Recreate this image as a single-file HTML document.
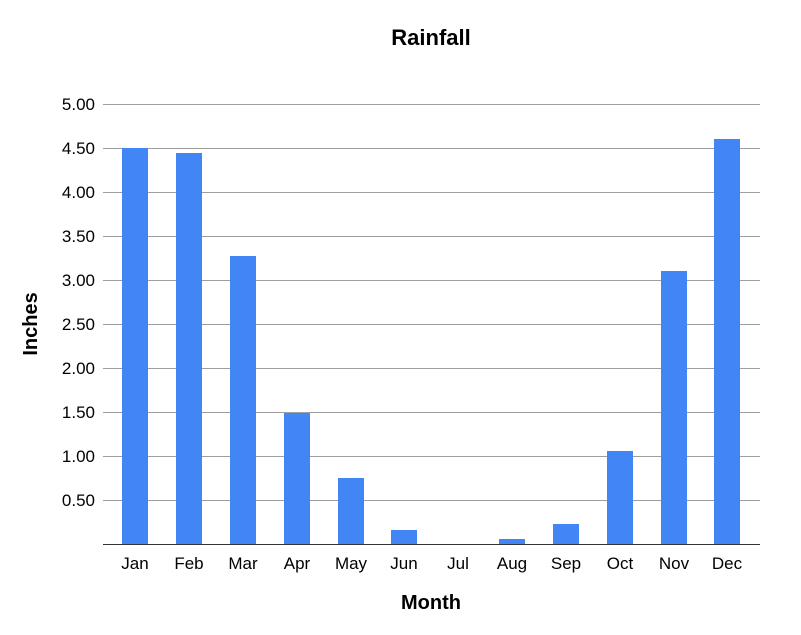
<!DOCTYPE html>
<html><head><style>body{margin:0;background:#fff}</style></head><body>
<svg width="801" height="630" xmlns="http://www.w3.org/2000/svg" font-family="Liberation Sans, sans-serif">
<rect width="801" height="630" fill="#fff"/>
<text x="431" y="45" text-anchor="middle" font-size="22" font-weight="bold" fill="#000">Rainfall</text>
<g stroke="#9e9e9e" stroke-width="1">
<line x1="103" x2="760" y1="104.5" y2="104.5"/><line x1="103" x2="760" y1="148.5" y2="148.5"/>
<line x1="103" x2="760" y1="192.5" y2="192.5"/><line x1="103" x2="760" y1="236.5" y2="236.5"/>
<line x1="103" x2="760" y1="280.5" y2="280.5"/><line x1="103" x2="760" y1="324.5" y2="324.5"/>
<line x1="103" x2="760" y1="368.5" y2="368.5"/><line x1="103" x2="760" y1="412.5" y2="412.5"/>
<line x1="103" x2="760" y1="456.5" y2="456.5"/><line x1="103" x2="760" y1="500.5" y2="500.5"/>
</g>
<line x1="103" x2="760" y1="544.5" y2="544.5" stroke="#333"/>
<g font-size="17" fill="#000" text-anchor="end">
<text x="95" y="110">5.00</text><text x="95" y="154">4.50</text><text x="95" y="198">4.00</text>
<text x="95" y="242">3.50</text><text x="95" y="286">3.00</text><text x="95" y="330">2.50</text>
<text x="95" y="374">2.00</text><text x="95" y="418">1.50</text><text x="95" y="462">1.00</text>
<text x="95" y="506">0.50</text>
</g>
<g fill="#4285f4">
<rect x="122" y="148" width="26" height="396"/>
<rect x="176" y="153" width="26" height="391"/>
<rect x="230" y="256" width="26" height="288"/>
<rect x="284" y="413" width="26" height="131"/>
<rect x="338" y="478" width="26" height="66"/>
<rect x="391" y="530" width="26" height="14"/>
<rect x="499" y="539" width="26" height="5"/>
<rect x="553" y="524" width="26" height="20"/>
<rect x="607" y="451" width="26" height="93"/>
<rect x="661" y="271" width="26" height="273"/>
<rect x="714" y="139" width="26" height="405"/>
</g>
<g font-size="17" fill="#000" text-anchor="middle">
<text x="135" y="569">Jan</text><text x="189" y="569">Feb</text><text x="243" y="569">Mar</text>
<text x="297" y="569">Apr</text><text x="351" y="569">May</text><text x="404" y="569">Jun</text>
<text x="458" y="569">Jul</text><text x="512" y="569">Aug</text><text x="566" y="569">Sep</text>
<text x="620" y="569">Oct</text><text x="674" y="569">Nov</text><text x="727" y="569">Dec</text>
</g>
<text x="431" y="609" text-anchor="middle" font-size="20" font-weight="bold">Month</text>
<text transform="translate(37,324) rotate(-90)" text-anchor="middle" font-size="20" font-weight="bold">Inches</text>
</svg>
</body></html>
